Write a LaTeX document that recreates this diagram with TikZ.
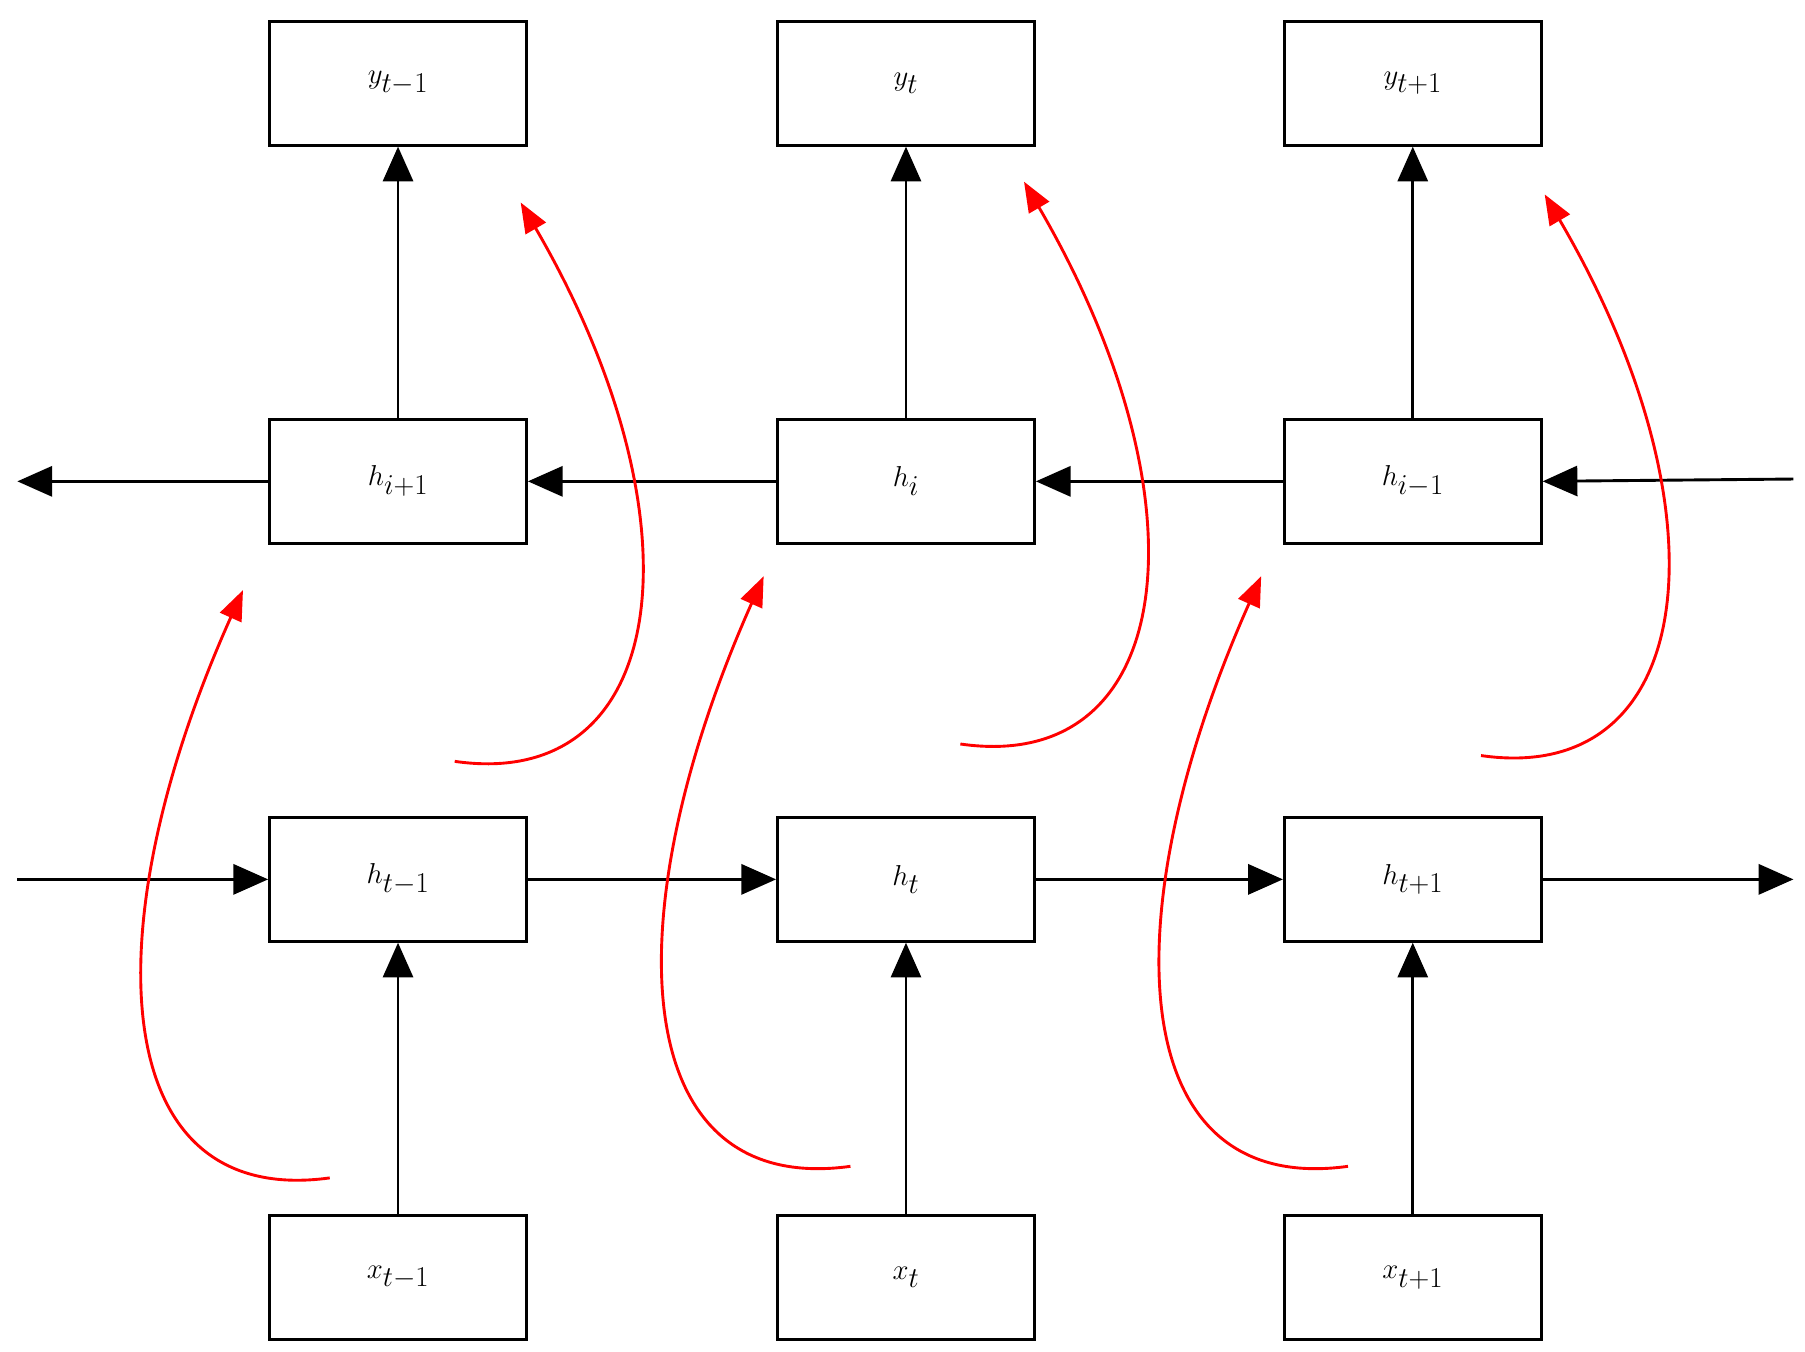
\documentclass[tikz,border=0pt]{standalone}
\usetikzlibrary{arrows.meta}
\begin{document}
\begin{tikzpicture}[x=1pt,y=1pt,yscale=-1,
  box/.style={draw,line width=2.5pt,minimum width=222pt,minimum height=107pt,inner sep=0pt,font=\fontsize{72}{80}\selectfont},
  conn/.style={line width=2.5pt,-{Triangle[length=30pt,width=26pt]}},
  back/.style={red,line width=2.5pt,-{Triangle[length=26pt,width=20pt]}}]
\useasboundingbox (0,0) rectangle (1560,1168);
% output row
\node[box] (y1) at (344,72) {$y_{t-1}$};
\node[box] (y2) at (783,72) {$y_{t}$};
\node[box] (y3) at (1221,72) {$y_{t+1}$};
% backward hidden row
\node[box] (b1) at (344,416) {$h_{i+1}$};
\node[box] (b2) at (783,416) {$h_{i}$};
\node[box] (b3) at (1221,416) {$h_{i-1}$};
% forward hidden row
\node[box] (f1) at (344,760) {$h_{t-1}$};
\node[box] (f2) at (783,760) {$h_{t}$};
\node[box] (f3) at (1221,760) {$h_{t+1}$};
% input row
\node[box] (x1) at (344,1104) {$x_{t-1}$};
\node[box] (x2) at (783,1104) {$x_{t}$};
\node[box] (x3) at (1221,1104) {$x_{t+1}$};
% free ends
\coordinate (bin) at (1550,414);
\coordinate (bout) at (15,416);
\coordinate (fin) at (15,760);
\coordinate (fout) at (1550,760);
% vertical connectors
\foreach \i in {1,2,3}{
  \draw[conn] (x\i) -- (f\i);
  \draw[conn] (b\i) -- (y\i);
}
% horizontal connectors
\draw[conn] (bin) -- (b3.east);
\draw[conn] (b3) -- (b2);
\draw[conn] (b2) -- (b1);
\draw[conn] (b1) -- (bout);
\draw[conn] (fin) -- (f1.west);
\draw[conn] (f1) -- (f2);
\draw[conn] (f2) -- (f3);
\draw[conn] (f3) -- (fout);
% red curved arrows
\draw[back] (285,1018) .. controls (90,1045) and (80,800) .. (210,510);
\draw[back] (735,1008) .. controls (540,1035) and (530,790) .. (660,498);
\draw[back] (1165,1008) .. controls (970,1035) and (960,790) .. (1090,498);
\draw[back] (393,658) .. controls (580,685) and (610,450) .. (450,175);
\draw[back] (830,643) .. controls (1017,670) and (1047,435) .. (885,157);
\draw[back] (1280,653) .. controls (1467,680) and (1497,445) .. (1335,168);
\end{tikzpicture}
\end{document}
